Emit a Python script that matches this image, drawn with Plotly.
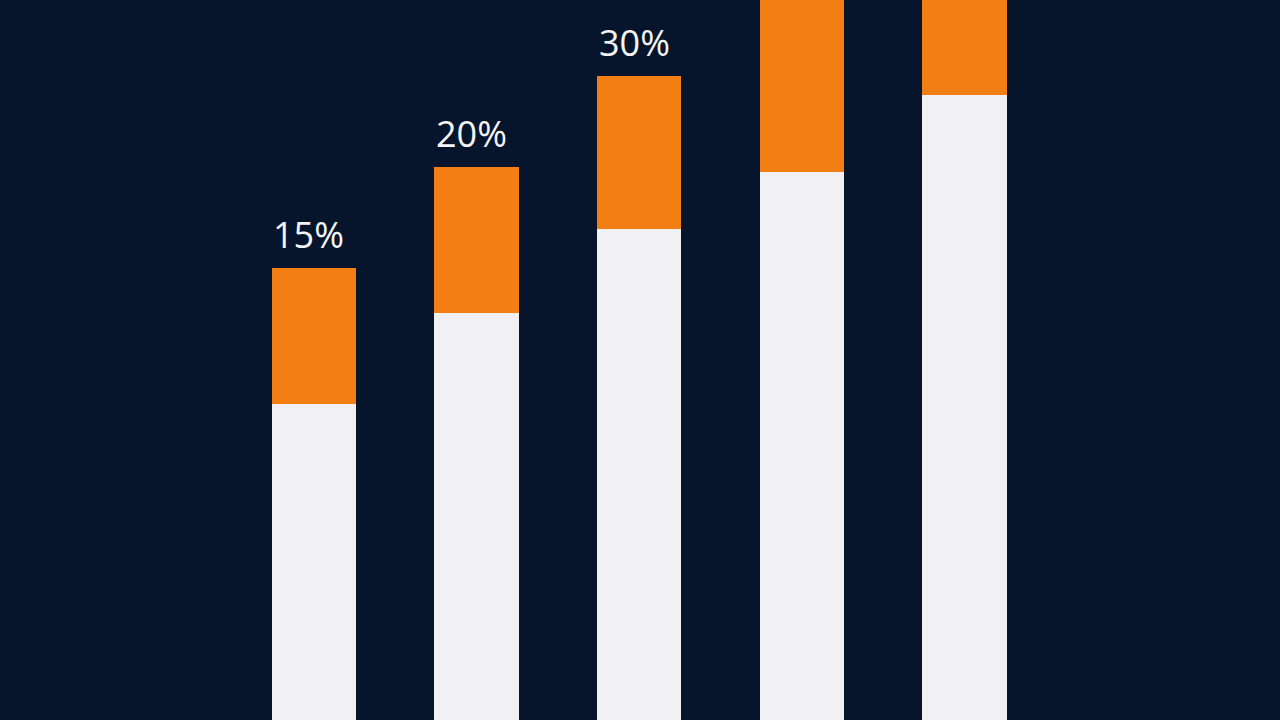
import plotly.graph_objects as go

categories = ["A", "B", "C", "D", "E"]
base_values = [316, 407, 491, 548, 625]
top_values = [136, 146, 153, 180, 190]
labels = ["15%", "20%", "30%", "", ""]

fig = go.Figure()
fig.add_trace(go.Bar(
    x=categories, y=base_values, width=0.52,
    marker=dict(color="#F1F1F3", line=dict(width=0)),
    hoverinfo="skip",
))
fig.add_trace(go.Bar(
    x=categories, y=top_values, width=0.52,
    marker=dict(color="#F27E14", line=dict(width=0)),
    hoverinfo="skip",
))

for c, b, t, lab in zip(categories, base_values, top_values, labels):
    if lab:
        fig.add_annotation(
            x=c, y=b + t, text=lab, showarrow=False,
            yanchor="bottom", yshift=7, xshift=-5,
            font=dict(family="Open Sans", size=36, color="#F4F4F4"),
        )

bg = "#06152C"
fig.update_layout(
    width=1280, height=720,
    barmode="stack",
    showlegend=False,
    margin=dict(l=0, r=0, t=0, b=0),
    paper_bgcolor=bg,
    plot_bgcolor=bg,
    xaxis=dict(range=[-1.931, 5.941], visible=False, fixedrange=True),
    yaxis=dict(range=[0, 720], visible=False, fixedrange=True),
)

fig.write_html(
    "out.html",
    config={"displayModeBar": False},
    post_script="document.body.style.margin='0';document.body.style.background='%s';document.body.style.overflow='hidden';" % bg,
)
